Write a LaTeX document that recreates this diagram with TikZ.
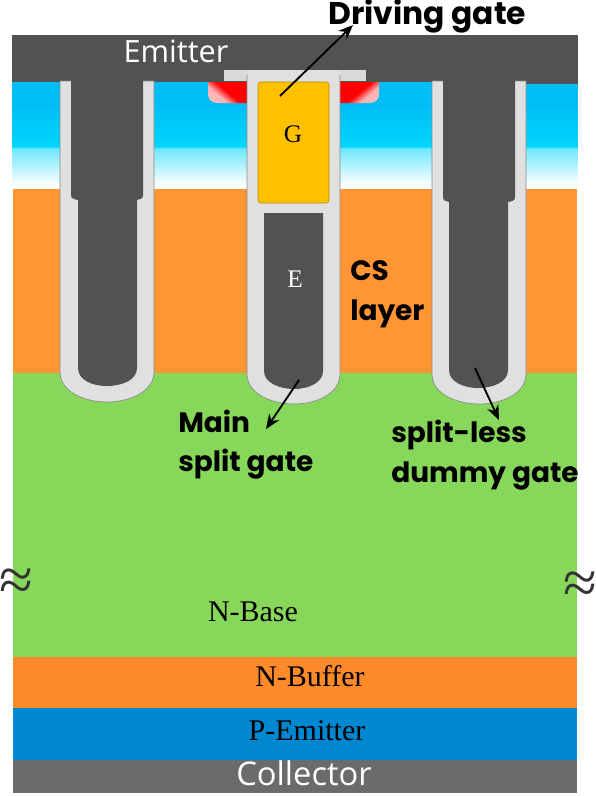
\documentclass[tikz,border=0pt]{standalone}
\usepackage{fontspec}
\setmainfont{Liberation Serif}
\newfontfamily\labelfont{Poppins}
\newfontfamily\plainfont{Open Sans}
\usetikzlibrary{arrows.meta}
\definecolor{metal}{HTML}{525252}
\definecolor{oxide}{HTML}{E0E0E0}
\definecolor{capox}{HTML}{D9D9D9}
\definecolor{csor}{HTML}{FF9633}
\definecolor{basegr}{HTML}{86D75A}
\definecolor{bufor}{HTML}{FF8A29}
\definecolor{pblue}{HTML}{0087D1}
\definecolor{coll}{HTML}{6B6B6B}
\definecolor{gateyl}{HTML}{FFC000}
\definecolor{blueA}{HTML}{00BEF5}
\definecolor{blueB}{HTML}{00D6FB}
\definecolor{edgeg}{HTML}{8A8A8A}
\pgfdeclareverticalshading{redfade}{100bp}{color(0bp)=(red!20); color(36bp)=(red!30); color(50bp)=(red); color(100bp)=(red)}
\tikzset{
  boldlabel/.style={inner sep=0pt,anchor=base west,font=\labelfont\bfseries\fontsize{21}{21}\selectfont},
  plainlabel/.style={inner sep=0pt,anchor=base,text=white,font=\plainfont\fontsize{23}{23}\selectfont},
  seriflabel/.style={inner sep=0pt,anchor=base,font=\fontsize{22.5}{22.5}\selectfont},
  gatelabel/.style={inner sep=0pt,font=\fontsize{19}{19}\selectfont},
  wave/.style={inner sep=0pt,text=black!80,font=\fontsize{46}{46}\selectfont},
  ox/.style={fill=oxide,draw=edgeg,line width=0.5pt},
  pointer/.style={-{Stealth[length=11pt,width=9pt]},line width=1.4pt,black}
}
\begin{document}
\begin{tikzpicture}[x=0.75pt,y=-0.75pt]
\useasboundingbox (0,0) rectangle (596,796);
% layers: silicon gradient built from overlapping strips
\fill[blueA] (12,81) rectangle (578,189);
\foreach \yy in {105,107,...,145}{
  \pgfmathtruncatemacro{\mixv}{(\yy-105)*100/40}
  \fill[blueB!\mixv!blueA] (12,\yy) rectangle (578,189);
}
\foreach \yy in {147,148,149}{
  \pgfmathtruncatemacro{\mixv}{100-(\yy-146)*15}
  \fill[blueB!\mixv!white] (12,\yy) rectangle (578,189);
}
\foreach \yy in {150,151,...,186}{
  \pgfmathtruncatemacro{\mixv}{(186-\yy)*55/36}
  \fill[blueB!\mixv!white] (12,\yy) rectangle (578,189);
}
\fill[csor] (13,189) rectangle (577,374);
\fill[basegr] (13,373) rectangle (577,657);
\fill[bufor] (13,657) rectangle (577,708);
\fill[pblue] (13,708) rectangle (577,760);
\fill[coll] (13,760) rectangle (577,793);
% red regions
\shade[shading=redfade,shading angle=-40]
  (208,81) -- (208,94) .. controls (208,100) and (212,103) .. (218,103) -- (247,103) -- (247,81) -- cycle;
\shade[shading=redfade,shading angle=40]
  (379,81) -- (379,94) .. controls (379,100) and (375,103) .. (369,103) -- (340,103) -- (340,81) -- cycle;
% emitter
\fill[metal] (12,35) rectangle (578,82);
\fill[metal] (480,80) rectangle (578,84);
% left trench
\path[ox] (60,81) -- (60,372) .. controls (60,392) and (85,402) .. (107,402)
  .. controls (129,402) and (154,392) .. (154,372) -- (154,81) -- cycle;
\fill[metal] (71,80) -- (71,195) .. controls (71,199) and (74,199) .. (78,200) -- (78,368)
  .. controls (78,380) and (92,386) .. (107,386) .. controls (122,386) and (137,380) .. (137,368)
  -- (137,200) .. controls (140,199) and (143,199) .. (143,195) -- (143,80) -- cycle;
% middle trench
\fill[capox] (224,70) rectangle (366,81);
\path[ox] (247,76) -- (247,374) .. controls (247,394) and (272,404) .. (294,404)
  .. controls (316,404) and (340,394) .. (340,374) -- (340,76) -- cycle;
\fill[oxide] (248,70) rectangle (339,82);
\fill[gateyl,draw=gateyl!70!black,line width=0.4pt,rounded corners=2pt] (258,82) rectangle (329,203);
\fill[metal] (264,213) -- (264,371) .. controls (264,383) and (280,389) .. (294,389)
  .. controls (308,389) and (323,383) .. (323,371) -- (323,213) -- cycle;
% right trench
\path[ox] (432,81) -- (432,374) .. controls (432,394) and (457,404) .. (479,404)
  .. controls (501,404) and (526,394) .. (526,374) -- (526,81) -- cycle;
\fill[metal] (443,80) -- (443,197) .. controls (443,201) and (446,201) .. (449,202) -- (449,370)
  .. controls (449,382) and (464,388) .. (478,388) .. controls (493,388) and (508,382) .. (508,370)
  -- (508,202) .. controls (512,201) and (515,201) .. (515,197) -- (515,80) -- cycle;
% labels
\node[plainlabel] (emitter) at (176,62) {Emitter};
\node[plainlabel,font=\plainfont\fontsize{24.5}{24.5}\selectfont] (collector) at (304,785) {Collector};
\node[boldlabel,font=\labelfont\bfseries\fontsize{23.5}{23.5}\selectfont] (driving) at (328,24) {Driving gate};
\node[boldlabel] (cs) at (350,280) {CS};
\node[boldlabel] (layer) at (350,320) {layer};
\node[boldlabel] (main) at (178,432) {Main};
\node[boldlabel] (split) at (178,471) {split gate};
\node[boldlabel] (less) at (391,442) {split-less};
\node[boldlabel] (dummy) at (391,482) {dummy gate};
\node[gatelabel] (g) at (293,134) {G};
\node[gatelabel,text=white] (e) at (295,279) {E};
\node[seriflabel] (nbase) at (253,621) {N-Base};
\node[seriflabel] (nbuf) at (310,686) {N-Buffer};
\node[seriflabel] (pem) at (307,740) {P-Emitter};
\node[wave] (wl) at (16,585) {≈};
\node[wave] (wr) at (580,588) {≈};
% pointers
\coordinate (a1) at (280,96); \coordinate (a2) at (353,25);
\coordinate (b1) at (299,380); \coordinate (b2) at (266,429);
\coordinate (c1) at (475,368); \coordinate (c2) at (499,420);
\draw[pointer] (a1) -- (a2);
\draw[pointer] (b1) -- (b2);
\draw[pointer] (c1) -- (c2);
\end{tikzpicture}
\end{document}
